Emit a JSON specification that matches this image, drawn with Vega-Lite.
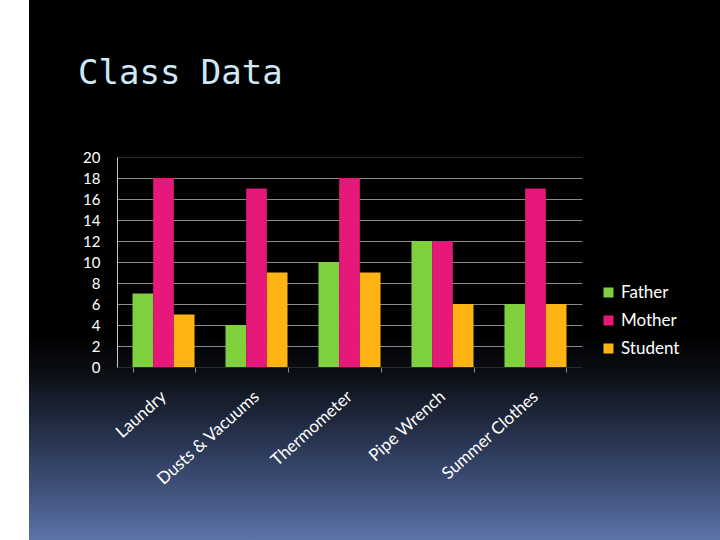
{
  "$schema": "https://vega.github.io/schema/vega-lite/v6.json",
  "width": 691,
  "height": 540,
  "autosize": {"type": "none"},
  "padding": {"left": 29, "top": 0, "right": 0, "bottom": 0},
  "background": "#ffffff",
  "view": {
    "stroke": null,
    "fill": {
      "gradient": "linear",
      "x1": 0, "y1": 0, "x2": 0, "y2": 1,
      "stops": [
        {"offset": 0, "color": "#000000"},
        {"offset": 0.62, "color": "#000000"},
        {"offset": 0.69, "color": "#0b0e14"},
        {"offset": 0.815, "color": "#283450"},
        {"offset": 0.926, "color": "#455784"},
        {"offset": 1, "color": "#5c74a8"}
      ]
    }
  },
  "title": {
    "text": "Class Data",
    "anchor": "start",
    "frame": "group",
    "font": "DejaVu Sans Mono",
    "fontSize": 34,
    "fontWeight": "normal",
    "color": "#cde8f5",
    "baseline": "alphabetic",
    "offset": 0,
    "dx": 49,
    "dy": 118
  },
  "data": {
    "values": [
      {"item": "Laundry", "person": "Father", "count": 7},
      {"item": "Laundry", "person": "Mother", "count": 18},
      {"item": "Laundry", "person": "Student", "count": 5},
      {"item": "Dusts & Vacuums", "person": "Father", "count": 4},
      {"item": "Dusts & Vacuums", "person": "Mother", "count": 17},
      {"item": "Dusts & Vacuums", "person": "Student", "count": 9},
      {"item": "Thermometer", "person": "Father", "count": 10},
      {"item": "Thermometer", "person": "Mother", "count": 18},
      {"item": "Thermometer", "person": "Student", "count": 9},
      {"item": "Pipe Wrench", "person": "Father", "count": 12},
      {"item": "Pipe Wrench", "person": "Mother", "count": 12},
      {"item": "Pipe Wrench", "person": "Student", "count": 6},
      {"item": "Summer Clothes", "person": "Father", "count": 6},
      {"item": "Summer Clothes", "person": "Mother", "count": 17},
      {"item": "Summer Clothes", "person": "Student", "count": 6}
    ]
  },
  "mark": {"type": "bar", "stroke": null},
  "encoding": {
    "x": {
      "field": "item",
      "type": "nominal",
      "sort": ["Laundry", "Dusts & Vacuums", "Thermometer", "Pipe Wrench", "Summer Clothes"],
      "scale": {"range": [88, 553], "paddingInner": 0.333, "paddingOuter": 0.1667},
      "axis": {
        "title": null,
        "orient": "bottom",
        "offset": -173,
        "domain": false,
        "ticks": true,
        "tickBand": "extent",
        "tickColor": "#8a8a8a",
        "tickSize": 5,
        "labelAngle": -42,
        "labelAlign": "right",
        "labelBaseline": "middle",
        "labelPadding": 22,
        "labelColor": "#ffffff",
        "labelFont": "Lato",
        "labelFontSize": 17,
        "grid": false
      }
    },
    "xOffset": {
      "field": "person",
      "type": "nominal",
      "sort": ["Father", "Mother", "Student"],
      "scale": {"paddingInner": 0, "paddingOuter": 0}
    },
    "y": {
      "field": "count",
      "type": "quantitative",
      "scale": {"domain": [0, 20], "range": [367, 157], "nice": false, "zero": true},
      "axis": {
        "title": null,
        "orient": "left",
        "offset": -88,
        "values": [0, 2, 4, 6, 8, 10, 12, 14, 16, 18, 20],
        "ticks": false,
        "labelPadding": 17,
        "labelColor": "#ffffff",
        "labelFont": "Lato",
        "labelFontSize": 15,
        "domainColor": "#c8c8c8",
        "domainWidth": 1,
        "grid": true,
        "gridColor": {"condition": {"test": "datum.value === 20 || datum.value === 0", "value": "#2a2a2a"}, "value": "#8a8a8a"},
        "gridOpacity": 1,
        "gridWidth": 1
      }
    },
    "color": {
      "field": "person",
      "type": "nominal",
      "sort": ["Father", "Mother", "Student"],
      "scale": {"domain": ["Father", "Mother", "Student"], "range": ["#7ed03c", "#e6197a", "#ffb414"]},
      "legend": {
        "title": null,
        "orient": "none",
        "legendX": 571,
        "legendY": 284,
        "symbolType": "square",
        "symbolSize": 100,
        "symbolStrokeWidth": 0,
        "labelColor": "#ffffff",
        "labelFont": "Lato",
        "labelFontSize": 17,
        "labelOffset": 4,
        "rowPadding": 10
      }
    }
  }
}
